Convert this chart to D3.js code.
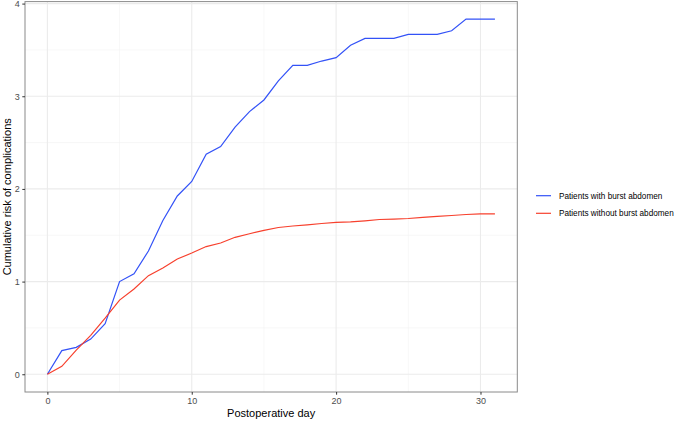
<!DOCTYPE html>
<html><head><meta charset="utf-8">
<script src="https://cdn.jsdelivr.net/npm/d3@7"></script>
<style>body{margin:0;background:#fff}svg{display:block}text{font-family:"Liberation Sans",Arial,sans-serif}</style>
</head><body><svg id="c" width="685" height="421"></svg>
<script>
const days = d3.range(0, 32);
const burst = [0,0.255,0.29,0.38,0.546,1.0,1.085,1.33,1.66,1.924,2.08,2.375,2.457,2.666,2.834,2.96,3.165,3.334,3.334,3.38,3.416,3.55,3.625,3.625,3.625,3.668,3.668,3.668,3.707,3.833,3.833,3.833];
const noBurst = [0,0.086,0.26,0.42,0.605,0.80,0.92,1.064,1.147,1.243,1.308,1.378,1.416,1.478,1.516,1.553,1.584,1.6,1.613,1.627,1.638,1.645,1.656,1.67,1.674,1.681,1.692,1.703,1.713,1.724,1.73,1.73];
const seriesNames = ["Patients with burst abdomen","Patients without burst abdomen"];
const seriesColors = ["#3352f7","#f7402d"];
const xTicks = [0,10,20,30];
const yTicks = [0,1,2,3,4];
const xTitle = "Postoperative day";
const yTitle = "Cumulative risk of complications";

const svg = d3.select("#c");
const L = 25, R = 517.3, T = 1.6, B = 392;
const x = d3.scaleLinear().domain([-1.55, 32.55]).range([L, R]);
const y = d3.scaleLinear().domain([-0.1915, 4.0215]).range([B, T]);

const g = svg.append("g");
// minor grid
const xMinor = [5,15,25], yMinor = [0.5,1.5,2.5,3.5];
g.selectAll(".xm").data(xMinor).enter().append("line")
 .attr("x1", d=>x(d)).attr("x2", d=>x(d)).attr("y1", T).attr("y2", B)
 .attr("stroke", "#f2f2f2").attr("stroke-width", 0.6);
g.selectAll(".ym").data(yMinor).enter().append("line")
 .attr("y1", d=>y(d)).attr("y2", d=>y(d)).attr("x1", L).attr("x2", R)
 .attr("stroke", "#f2f2f2").attr("stroke-width", 0.6);
// major grid
g.selectAll(".xg").data(xTicks).enter().append("line")
 .attr("x1", d=>x(d)).attr("x2", d=>x(d)).attr("y1", T).attr("y2", B)
 .attr("stroke", "#ebebeb").attr("stroke-width", 1.1);
g.selectAll(".yg").data(yTicks).enter().append("line")
 .attr("y1", d=>y(d)).attr("y2", d=>y(d)).attr("x1", L).attr("x2", R)
 .attr("stroke", "#ebebeb").attr("stroke-width", 1.1);

// lines
const line = d3.line().x((d,i)=>x(days[i])).y(d=>y(d));
[burst, noBurst].forEach((s,i)=>{
  g.append("path").datum(s).attr("d", line).attr("fill","none")
   .attr("stroke", seriesColors[i]).attr("stroke-width", 1.2);
});

// border
g.append("rect").attr("x", L).attr("y", T).attr("width", R-L).attr("height", B-T)
 .attr("fill","none").attr("stroke","#8a8a8a").attr("stroke-width",1);

// axes
const xAxis = d3.axisBottom(x).tickValues(xTicks).tickFormat(d3.format("d")).tickSize(2.7).tickPadding(2.5);
const xa = svg.append("g").attr("transform", `translate(0,${B})`).call(xAxis);
const yAxis = d3.axisLeft(y).tickValues(yTicks).tickFormat(d3.format("d")).tickSize(2.7).tickPadding(2.5);
const ya = svg.append("g").attr("transform", `translate(${L},0)`).call(yAxis);
[xa, ya].forEach(a=>{
  a.select(".domain").remove();
  a.selectAll(".tick line").attr("stroke","#333333");
  a.selectAll(".tick text").attr("fill","#4d4d4d").style("font-size","9px").style("font-family","'Liberation Sans',Arial,sans-serif");
});

svg.append("text").attr("x", (L+R)/2).attr("y", 416.5).attr("text-anchor","middle")
 .style("font-size","11px").attr("fill","#000").text(xTitle);
svg.append("text").attr("transform", `translate(11,${(T+B)/2}) rotate(-90)`).attr("text-anchor","middle")
 .style("font-size","11px").attr("fill","#000").text(yTitle);

// legend
const lg = svg.append("g");
const ly = [195.7, 213.3];
seriesNames.forEach((n,i)=>{
  lg.append("line").attr("x1",536).attr("x2",551).attr("y1",ly[i]).attr("y2",ly[i])
    .attr("stroke", seriesColors[i]).attr("stroke-width",1.2);
  lg.append("text").attr("x",559).attr("y",ly[i]).attr("dy","0.35em")
    .style("font-size","8.2px").attr("fill","#000").text(n);
});
</script></body></html>
